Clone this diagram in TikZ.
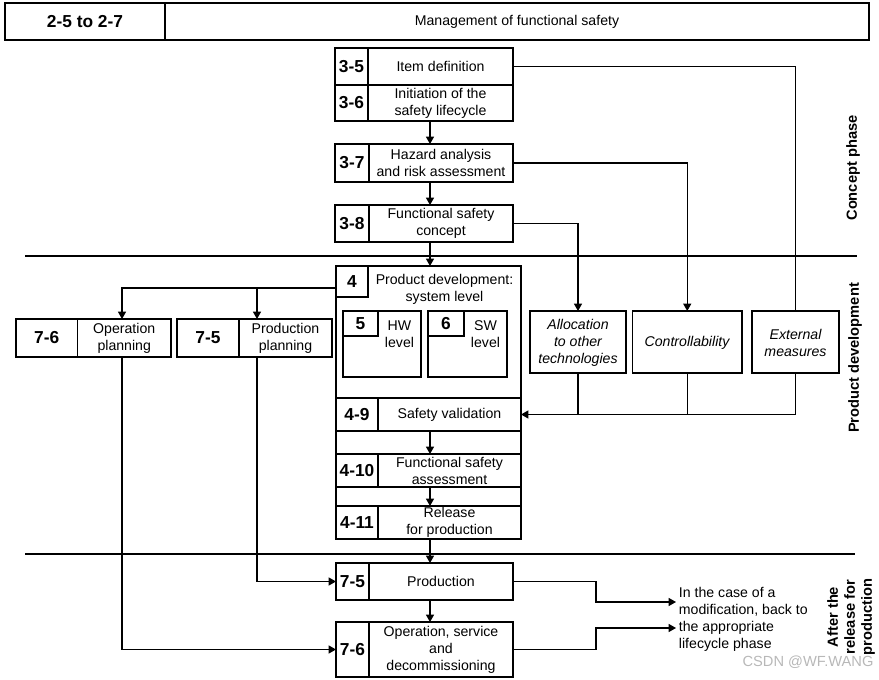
\documentclass[tikz,border=0pt]{standalone}
\usepackage{fontspec}
\setmainfont{Liberation Sans}
\usetikzlibrary{arrows.meta,fit}
\newcommand\numbox[8]{%
  \node[bx, fit={(#2,#3)(#4,#5)}] (#1) {};
  \node[bx, fit={(#2,#3)(#6,#5)}] (#1n) {};
  \node[numf] (#1nt) at ({(#2+#6)/2},{(#3+#5)/2}) {#7};
  \node[txt] (#1t) at ({(#6+#4)/2},{(#3+#5)/2}) {#8};
}
\begin{document}
\begin{tikzpicture}[x=0.75pt,y=-0.75pt,
  bx/.style={draw, line width=0.9pt, inner sep=0pt, outer sep=0pt},
  thickbx/.style={bx, line width=1.2pt},
  numf/.style={font=\fontsize{13}{15}\selectfont\bfseries, inner sep=0pt},
  txt/.style={font=\fontsize{10.6}{12.75}\selectfont, align=center, inner sep=0pt},
  itxt/.style={font=\fontsize{10.6}{12.75}\selectfont\itshape, align=center, inner sep=0pt},
  conn/.style={line width=0.9pt},
  arr/.style={conn, -{Triangle[length=5.5pt,width=6pt]}},
  sepline/.style={line width=1.8pt},
  phase/.style={font=\fontsize{11}{12.75}\selectfont\bfseries, align=center, rotate=90, inner sep=0pt}
]
\useasboundingbox (0,0) rectangle (879,679);

% header
\node[bx, fit={(5,3)(869,40)}] (top) {};
\node[bx, fit={(5,3)(165,40)}] (topn) {};
\node[numf] (topnt) at (85,21.5) {2-5 to 2-7};
\node[txt] (topt) at (517,21.5) {Management of functional safety};

% column coordinates
\coordinate (xC) at (430,0);
\coordinate (xA) at (122,0);
\coordinate (xB) at (257,0);
\coordinate (xD) at (596,0);
\coordinate (y288) at (0,288);
\coordinate (y602) at (0,602);
\coordinate (y628) at (0,628);

% concept phase
\numbox{b35}{335}{48}{513}{85}{368}{3-5}{Item definition}
\numbox{b36}{335}{85}{513}{121}{368}{3-6}{Initiation of the\\safety lifecycle}
\numbox{b37}{335}{144}{513}{182}{369}{3-7}{Hazard analysis\\and risk assessment}
\numbox{b38}{335}{205}{513}{242}{369}{3-8}{Functional safety\\concept}

% separators
\draw[sepline] (25,256) -- (857,256);
\draw[sepline] (25,554) -- (855,554);

% product development big box
\node[bx, fit={(336,266)(521,539)}] (b4) {};
\node[bx, fit={(336,266)(368,297)}] (b4n) {};
\node[numf] (b4nt) at (352,281.5) {4};
\node[txt] (b4t) at (444.5,289.5) {Product development:\\system level};
\node[bx, fit={(343,311)(421,377)}] (hw) {};
\node[bx, fit={(343,311)(378,336)}] (hwn) {};
\node[numf] (hwnt) at (360.5,323.5) {5};
\node[txt] (hwt) at (399.5,334) {HW\\level};
\node[bx, fit={(428,311)(507,377)}] (sw) {};
\node[bx, fit={(428,311)(464,336)}] (swn) {};
\node[numf] (swnt) at (446,323.5) {6};
\node[txt] (swt) at (485.5,334) {SW\\level};
\numbox{b49}{336}{398}{521}{431}{378}{4-9}{Safety validation}
\numbox{b410}{336}{454}{521}{487}{378}{4-10}{Functional safety\\assessment}
\numbox{b411}{336}{506}{521}{539}{378}{4-11}{Release\\for production}

% planning boxes
\numbox{opp}{16}{319}{171}{357}{77.5}{7-6}{Operation\\planning}
\numbox{ppl}{177}{319}{332}{357}{239}{7-5}{Production\\planning}

% italic boxes
\node[thickbx, fit={(530,311)(626,373)}] (alc) {};
\node[itxt] (alct) at (578,342.5) {Allocation\\to other\\technologies};
\node[thickbx, fit={(632.5,311)(742,373)}] (ctl) {};
\node[itxt] (ctlt) at (687,342.5) {Controllability};
\node[thickbx, fit={(752,311)(839,373)}] (ext) {};
\node[itxt] (extt) at (795.5,342.5) {External\\measures};

% after release boxes
\numbox{b75}{336}{563}{513}{600}{369}{7-5}{Production}
\numbox{b76}{336}{622}{513}{677}{369}{7-6}{Operation, service\\and\\decommissioning}

% note text
\node[txt, align=left, anchor=west, inner sep=2pt] (note) at (676,619.5)
  {In the case of a\\modification, back to\\the appropriate\\lifecycle phase};

% phase labels
\node[phase] (cp) at (853,168) {Concept phase};
\node[phase] (pd) at (855,358) {Product development};
\node[phase] (ar) at (851,617) {After the\\release for\\production};

% watermark
\node[font=\fontsize{11}{13}\selectfont, text=black!28, inner sep=0pt] (wm) at (808,662) {CSDN @WF.WANG};

% main column arrows
\draw[arr] (b36.south -| xC) -- (b37.north -| xC);
\draw[arr] (b37.south -| xC) -- (b38.north -| xC);
\draw[arr] (b38.south -| xC) -- (b4.north -| xC);
\draw[arr] (b49.south -| xC) -- (b410.north -| xC);
\draw[arr] (b410.south -| xC) -- (b411.north -| xC);
\draw[arr] (b411.south -| xC) -- (b75.north -| xC);
\draw[arr] (b75.south -| xC) -- (b76.north -| xC);

% concept to product development side boxes
\draw[conn] (b35.east) -| (ext.north);
\draw[arr] (b37.east) -| (ctl.north);
\draw[arr] (b38.east) -| (alc.north);

% feedback to safety validation
\draw[conn] (alc.south) -- (alc.south |- b49.east);
\draw[conn] (ctl.south) -- (ctl.south |- b49.east);
\draw[arr] (ext.south) |- (b49.east);

% planning branches
\draw[arr] (b4.west |- y288) -| (opp.north -| xA);
\draw[arr] (xB |- y288) -- (ppl.north -| xB);
\draw[arr] (opp.south -| xA) |- (b76.west);
\draw[arr] (ppl.south -| xB) |- (b75.west);

% modification arrows
\draw[arr] (b75.east) -- (xD |- b75.east) -- (xD |- y602) -- (note.west |- y602);
\draw[arr] (b76.east) -- (xD |- b76.east) -- (xD |- y628) -- (note.west |- y628);
\end{tikzpicture}
\end{document}
